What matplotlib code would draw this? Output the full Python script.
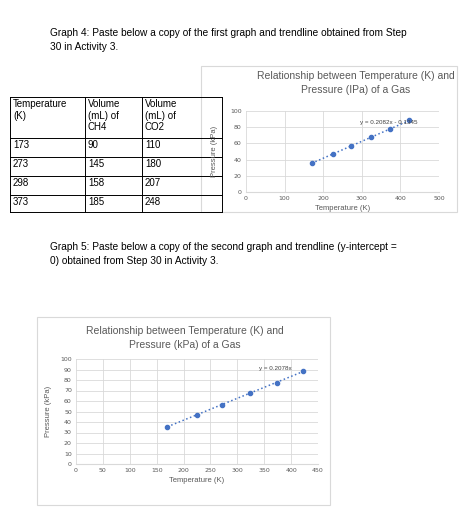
import matplotlib
matplotlib.use("Agg")
import matplotlib.pyplot as plt
import numpy as np
from matplotlib.patches import Rectangle

temps = [170, 225, 272, 323, 373, 423]
press = [35.5, 47, 56.5, 67.5, 77.5, 88.5]
table_rows = [["Temperature\n(K)", "Volume\n(mL) of\nCH4", "Volume\n(mL) of\nCO2"],
              ["173", "90", "110"], ["273", "145", "180"],
              ["298", "158", "207"], ["373", "185", "248"]]

W, H = 474, 519
fig = plt.figure(figsize=(W/100, H/100), dpi=100)
fig.patch.set_facecolor("white")
ff = ["Liberation Sans", "DejaVu Sans"]
BLUE = "#4472C4"

def fx(x): return x / W
def fy(y): return 1 - y / H

fig.text(fx(50), fy(33), "Graph 4: Paste below a copy of the first graph and trendline obtained from Step",
         fontsize=7.3, family=ff, va="center")
fig.text(fx(50), fy(47), "30 in Activity 3.", fontsize=7.3, family=ff, va="center")
fig.text(fx(50), fy(247), "Graph 5: Paste below a copy of the second graph and trendline (y-intercept =",
         fontsize=7.3, family=ff, va="center")
fig.text(fx(50), fy(261), "0) obtained from Step 30 in Activity 3.", fontsize=7.3, family=ff, va="center")

# table
cols = [10, 85, 142, 222]
rows = [97, 138, 157, 176, 195, 212]
bg = fig.add_axes([0, 0, 1, 1], zorder=-1)
bg.set_xlim(0, W); bg.set_ylim(H, 0); bg.axis("off")
for c in cols:
    bg.plot([c, c], [rows[0], rows[-1]], color="black", lw=0.7)
for r in rows:
    bg.plot([cols[0], cols[-1]], [r, r], color="black", lw=0.7)
for i, row in enumerate(table_rows):
    for j, txt in enumerate(row):
        bg.text(cols[j] + 3, rows[i] + 2, txt, fontsize=7, family=ff, va="top", ha="left")

# chart boxes
bg.add_patch(Rectangle((201, 66), 256, 146, fill=False, ec="#d9d9d9", lw=0.8))
bg.add_patch(Rectangle((37, 317), 293, 188, fill=False, ec="#d9d9d9", lw=0.8))

def chart(x0, x1, y0, y1, xlim, xt, ylim, yt, title, tx, ty, eqn, eqpos, intercept, ylx):
    ax = fig.add_axes([fx(x0), fy(y0), (x1-x0)/W, (y0-y1)/H])
    ax.set_xlim(*xlim); ax.set_ylim(*ylim)
    ax.set_xticks(xt); ax.set_yticks(yt)
    ax.grid(True, color="#d9d9d9", lw=0.6)
    for s in ax.spines.values(): s.set_visible(False)
    ax.spines["bottom"].set_visible(True); ax.spines["bottom"].set_color("#d9d9d9")
    ax.tick_params(length=0, labelsize=4.5, colors="#595959", pad=3)
    ax.plot(temps, press, "o", color=BLUE, ms=3)
    t = np.array(temps, float)
    if intercept:
        m, b = np.polyfit(t, press, 1)
    else:
        m, b = np.sum(t*np.array(press))/np.sum(t*t), 0
    ax.plot([t[0], t[-1]], [m*t[0]+b, m*t[-1]+b], ":", color=BLUE, lw=1.1)
    ax.text(*eqpos, eqn, fontsize=4.5, color="#404040", family=ff, ha="center", va="center")
    ax.set_xlabel("Temperature (K)", fontsize=5.5, color="#595959", family=ff, labelpad=3)
    ax.set_ylabel("Pressure (kPa)", fontsize=5.5, color="#595959", family=ff)
    ax.yaxis.set_label_coords((ylx - x0) / (x1 - x0), 0.5)
    ax.set_axisbelow(True)
    fig.text(fx(tx), fy(ty), title, fontsize=7.5, color="#595959", family=ff,
             ha="center", va="center", linespacing=1.4)

chart(246, 439, 192, 111, (0, 500), range(0, 501, 100), (0, 100), range(0, 101, 20),
      "Relationship between Temperature (K) and\nPressure (IPa) of a Gas", 356, 83,
      "y = 0.2082x - 0.1345", (370, 86), True, 218)
chart(76, 318, 464, 359, (0, 450), range(0, 451, 50), (0, 100), range(0, 101, 10),
      "Relationship between Temperature (K) and\nPressure (kPa) of a Gas", 185, 338,
      "y = 0.2078x", (370, 91), False, 52)

fig.savefig("out.png", dpi=100, facecolor="white")
